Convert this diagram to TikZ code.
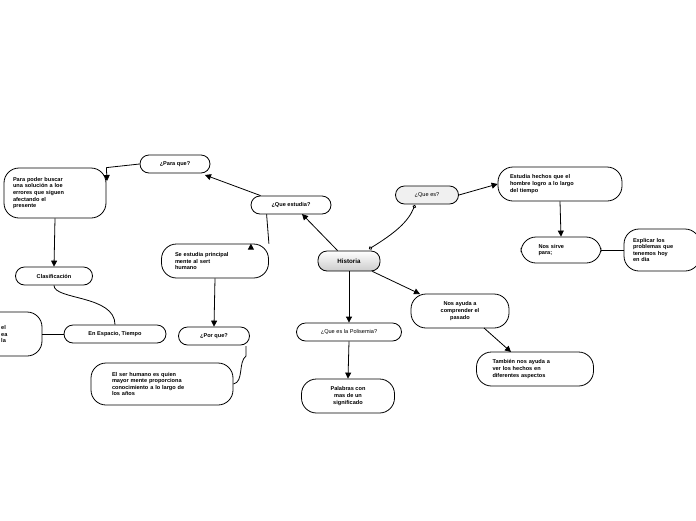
\documentclass[tikz,border=0pt]{standalone}
\usepackage{fontspec}
\setmainfont{Liberation Sans}
\usetikzlibrary{arrows.meta,shadings}
\begin{document}
\begin{tikzpicture}[x=1pt,y=-1pt,
 box/.style={draw,thick,rounded corners=9pt,minimum height=18pt,font=\fontsize{5.6}{6.6}\selectfont\bfseries,align=left,inner sep=2pt},
 big/.style={box,rounded corners=15pt},
 arr/.style={thick,-{Triangle[length=6pt,width=6pt]}},
 ln/.style={thick}]
\useasboundingbox (0,0) rectangle (696,520);
\node[big,minimum width=102pt,minimum height=50pt,text width=84pt] (pp) at (55,193) {Para poder buscar\\una solución a loe\\errores que siguen\\afectando el\\presente};
\node[box,minimum width=70pt] (pq) at (175,164) {¿Para que?};
\node[box,minimum width=77pt] (cl) at (54,276) {Clasificación};
\draw[thick,rounded corners=15pt] (-20,312) rectangle (42,356);
\node[font=\fontsize{5.6}{6.6}\selectfont\bfseries,align=left,anchor=west,inner sep=0] (lp) at (1,334) {el\\ea\\la};
\coordinate (lpr) at (42,334);
\node[box,minimum width=102pt] (es) at (115,334) {En Espacio, Tiempo};
\node[box,minimum width=80pt] (qe) at (291,205) {¿Que estudia?};
\node[big,minimum width=107pt,minimum height=34pt,text width=80pt] (se) at (215,261) {Se estudia principal\\mente al sert\\humano};
\node[box,minimum width=71pt] (pr) at (214,336) {¿Por que?};
\node[big,minimum width=142pt,minimum height=42pt,text width=100pt] (el) at (162,384) {El ser humano es quien\\mayor mente proporciona\\conocimiento a lo largo de\\los años};
\node[box,minimum width=62pt,minimum height=20pt,top color=white,bottom color=gray!40,font=\fontsize{6.2}{7}\selectfont\bfseries] (h) at (349,261) {Historia};
\node[box,minimum width=63pt,fill=gray!12,font=\fontsize{5.6}{6.6}\selectfont] (qs) at (427,195) {¿Que es?};
\node[big,minimum width=124pt,minimum height=34pt,text width=100pt] (eh) at (560,184) {Estudia hechos que el\\hombre logro a lo largo\\del tiempo};
\node[big,minimum width=80pt,minimum height=26pt,text width=45pt] (ns) at (561,250) {Nos sirve\\para;};
\node[big,minimum width=76pt,minimum height=42pt,text width=58pt] (ex) at (662,250) {Explicar los\\problemas que\\tenemos hoy\\en dia};
\node[big,minimum width=98pt,minimum height=34pt,align=center] (na) at (460,311) {Nos ayuda a\\comprender el\\pasado};
\node[big,minimum width=117pt,minimum height=34pt,text width=85pt] (tb) at (535,369) {También nos ayuda a\\ver los hechos en\\diferentes aspectos};
\node[box,minimum width=105pt,font=\fontsize{5.6}{6.6}\selectfont] (po) at (349,332) {¿Que es la Polisemia?};
\node[big,minimum width=93pt,minimum height=34pt,align=center] (pa) at (348,396) {Palabras con\\mas de un\\significado};

\draw[arr] (qe.north west)++(10,0) -- (205,175);
\draw[arr] (pq.west) -- (pp.north east|-pp.north)++(0,0) -- (107,181);
\draw[arr] (pp.south) ++(0,0) -- (cl.north);
\draw[ln] (cl.south) .. controls (54,300) and (115,295) .. (es.north);
\draw[ln] (es.west) -- (lpr);
\draw[arr] (qe.south west)++(16,0) -- (se.north east)++(-18,0);
\draw[arr] (h.north west)++(20,0) -- (302,214);
\draw[arr] (se.south) -- (pr.north);
\draw[ln] (246,346) -- (246,356) .. controls (238,362) and (244,382) .. (el.east);
\draw[ln,{Circle[open,length=3.5pt]}-{Circle[open,length=3.5pt]}] (369,249) .. controls (395,233) and (408,222) .. (415,205);
\draw[arr] (qs.east) -- (eh.west);
\draw[arr] (eh.south) -- (ns.north);
\draw[ln] (ns.east) -- (ex.west);
\draw[arr] (h.south east)++(-8,0) -- (420,294);
\draw[arr] (484,328) -- (511,352);
\draw[arr] (h.south) -- (po.north);
\draw[arr] (po.south) -- (pa.north);
\end{tikzpicture}
\end{document}
